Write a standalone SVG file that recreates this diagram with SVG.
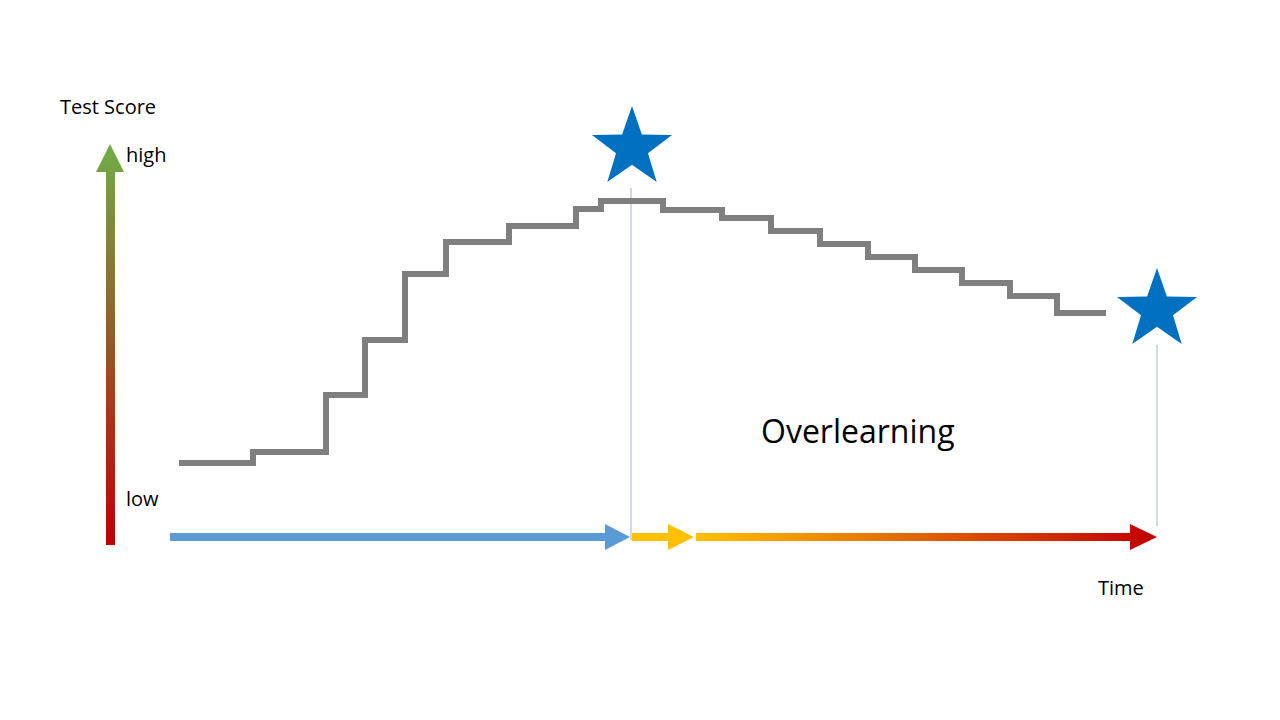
<svg xmlns="http://www.w3.org/2000/svg" width="1280" height="720" viewBox="0 0 1280 720">
<style>
text{font-family:"Open Sans","Liberation Sans",sans-serif;fill:#000}
.lbl{font-size:20px}
.star{fill:#0070C0}
.guide{stroke:#9DB6C9;stroke-width:1}
</style>
<defs>
<linearGradient id="gv" x1="0" y1="1" x2="0" y2="0"><stop offset="0" stop-color="#C00000"/><stop offset="1" stop-color="#70AD47"/></linearGradient>
<linearGradient id="gh" x1="0" y1="0" x2="1" y2="0"><stop offset="0" stop-color="#FFC000"/><stop offset="1" stop-color="#C00000"/></linearGradient>
</defs>
<rect width="1280" height="720" fill="#fff"/>
<g id="connectors">
<line class="guide" x1="631" y1="188" x2="631" y2="540"/>
<line class="guide" x1="1157" y1="345" x2="1157" y2="526"/>
<polygon id="yaxis" fill="url(#gv)" points="106,545 115,545 115,172 124,172 110,144 96,172 106,172"/>
<polygon fill="#5B9BD5" points="170,533 605,533 605,524 630,537 605,550 605,541 170,541"/>
<polygon fill="#FFC000" points="632,533 668,533 668,524 694,537 668,550 668,541 632,541"/>
<polygon fill="url(#gh)" points="696,533 1130,533 1130,524 1157,537 1130,550 1130,541 696,541"/>
</g>
<g id="staircase">
<polyline fill="none" stroke="#7F7F7F" stroke-width="6" points="179,463 253,463 253,452 326,452 326,395 365,395 365,340 405,340 405,274 446,274 446,242 509,242 509,226 576,226 576,209 601,209 601,201 663,201 663,210 722,210 722,218 771,218 771,231 820,231 820,244 868,244 868,257 915,257 915,270 962,270 962,283 1010,283 1010,296 1057,296 1057,313 1106,313"/>
</g>
<g id="star1"><polygon class="star" points="632,106 641.9,134.4 672,135 648,153.2 656.7,182 632,164.8 607.3,182 616,153.2 592,135 622.1,134.4"/></g>
<g id="star2"><polygon class="star" points="1157,268 1166.9,296.4 1197,297 1173,315.2 1181.7,344 1157,326.8 1132.3,344 1141,315.2 1117,297 1147.1,296.4"/></g>
<g id="labels">
<text class="lbl" x="60" y="114">Test Score</text>
<text class="lbl" x="126" y="162">high</text>
<text class="lbl" x="126" y="506">low</text>
<text class="lbl" x="1098" y="595">Time</text>
<text x="761" y="443" font-size="32">Overlearning</text>
</g>
</svg>
